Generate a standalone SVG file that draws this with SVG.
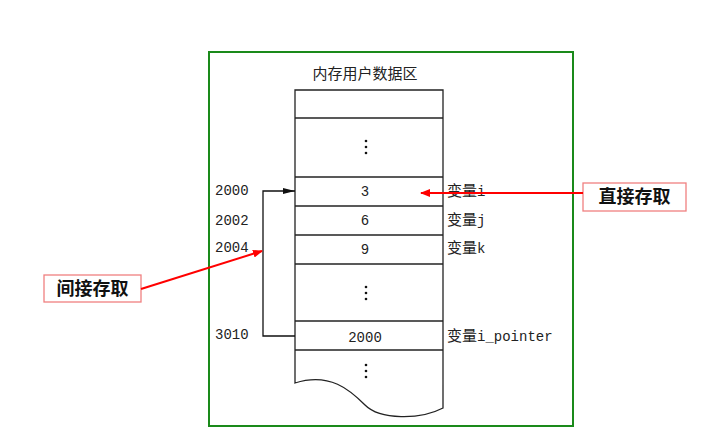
<svg xmlns="http://www.w3.org/2000/svg" width="706" height="446" viewBox="0 0 706 446">
<style>
.m{font-family:"Liberation Mono",monospace;font-size:14px;fill:#222}
.c{font-family:"Noto Sans CJK SC",sans-serif;font-size:15px;fill:#222}
.b{font-family:"Liberation Serif","Noto Sans CJK SC",serif;font-size:18px;font-weight:bold;fill:#111}
.cell{fill:#fff;stroke:#222;stroke-width:1.3}
.dot{fill:#111}
</style>
<defs>
<marker id="ra" markerWidth="10" markerHeight="8" refX="9" refY="4" orient="auto" markerUnits="userSpaceOnUse"><path d="M0,0L10,4L0,8z" fill="#f00"/></marker>
<marker id="ka" markerWidth="12" markerHeight="6" refX="12" refY="3" orient="auto" markerUnits="userSpaceOnUse"><path d="M0,0L12,3L0,6z" fill="#111"/></marker>
</defs>
<rect width="706" height="446" fill="#fff"/>
<rect x="209" y="52" width="364" height="374" fill="none" stroke="#1a8a1a" stroke-width="2"/>
<text class="c" x="365" y="79" text-anchor="middle">内存用户数据区</text>
<g id="memory">
<path class="cell" d="M295,90H443V408C420,420 380,420 365,405C350,390 330,372 295,383Z"/>
<line class="cell" x1="295" y1="118" x2="443" y2="118"/>
<line class="cell" x1="295" y1="177" x2="443" y2="177"/>
<line class="cell" x1="295" y1="206" x2="443" y2="206"/>
<line class="cell" x1="295" y1="235" x2="443" y2="235"/>
<line class="cell" x1="295" y1="264" x2="443" y2="264"/>
<line class="cell" x1="295" y1="321" x2="443" y2="321"/>
<line class="cell" x1="295" y1="350" x2="443" y2="350"/>
<g class="dot"><circle cx="366" cy="141" r="1.3"/><circle cx="366" cy="147" r="1.3"/><circle cx="366" cy="153" r="1.3"/>
<circle cx="366" cy="287" r="1.3"/><circle cx="366" cy="293" r="1.3"/><circle cx="366" cy="299" r="1.3"/>
<circle cx="366" cy="365" r="1.3"/><circle cx="366" cy="371" r="1.3"/><circle cx="366" cy="377" r="1.3"/></g>
<text class="m" x="365" y="196" text-anchor="middle">3</text>
<text class="m" x="365" y="225" text-anchor="middle">6</text>
<text class="m" x="365" y="254" text-anchor="middle">9</text>
<text class="m" x="365" y="342" text-anchor="middle">2000</text>
</g>
<g id="addresses">
<text class="m" x="215" y="195">2000</text>
<text class="m" x="215" y="225">2002</text>
<text class="m" x="215" y="252">2004</text>
<text class="m" x="215" y="339">3010</text>
</g>
<g id="names">
<text class="c" x="447" y="196">变量<tspan class="m">i</tspan></text>
<text class="c" x="447" y="225">变量<tspan class="m">j</tspan></text>
<text class="c" x="447" y="253">变量<tspan class="m">k</tspan></text>
<text class="c" x="447" y="341">变量<tspan class="m">i_pointer</tspan></text>
</g>
<g id="direct"><rect x="583" y="183" width="103" height="28" fill="#fff" stroke="#f08080" stroke-width="1.3"/><text class="b" x="634.5" y="203" text-anchor="middle">直接存取</text></g>
<g id="indirect"><rect x="44" y="275" width="97" height="27" fill="#fff" stroke="#f08080" stroke-width="1.3"/><text class="b" x="92.5" y="295" text-anchor="middle">间接存取</text></g>
<g id="connectors">
<path d="M295,336H263V191H295" fill="none" stroke="#111" stroke-width="1.3" marker-end="url(#ka)"/>
<line x1="583" y1="193" x2="421" y2="193" stroke="#f00" stroke-width="2" marker-end="url(#ra)"/>
<line x1="141" y1="289" x2="262" y2="251" stroke="#f00" stroke-width="2" marker-end="url(#ra)"/>
</g>
</svg>
